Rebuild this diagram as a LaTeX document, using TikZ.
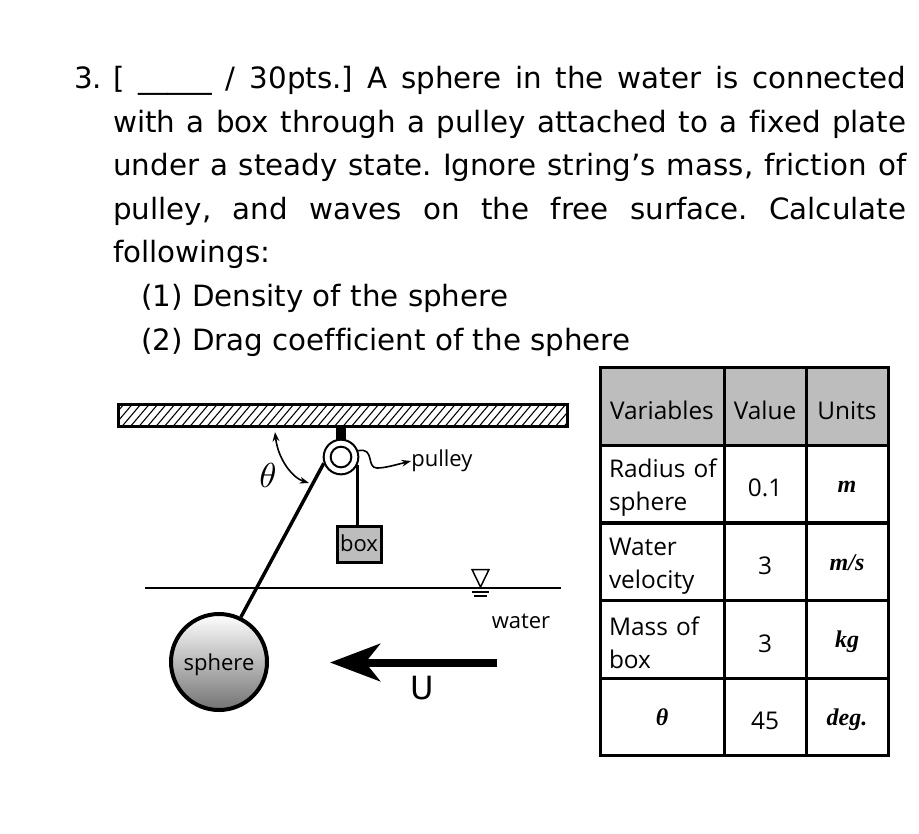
\documentclass[tikz,border=0pt]{standalone}
\usepackage{fontspec}
\setmainfont[Ligatures=NoCommon]{DejaVu Sans}
\newfontfamily\tablefont{Open Sans}
\newfontfamily\unitfont{Liberation Serif}
\usetikzlibrary{positioning, arrows.meta}
\frenchspacing
\newcommand{\bodysize}{\fontsize{22}{33}\selectfont}
\newcommand{\smallsize}{\tablefont\fontsize{18.3}{24.75}\selectfont}
\newcommand{\labelsize}{\tablefont\fontsize{16.5}{20}\selectfont}
\newcommand{\unitsize}{\unitfont\bfseries\itshape\fontsize{18}{20}\selectfont}
\tikzset{%
	txt/.style = {anchor = base west, inner sep = 0pt, font = \bodysize},
	lab/.style = {inner sep = 0pt, font = \labelsize},
	cell/.style = {draw, line width = 2.25pt, minimum width = #1, minimum height = 58.1pt, inner sep = 0pt, font = \smallsize},
	numcell/.style = {cell = #1, text height = 19pt, text depth = 0pt},
	head/.style = {numcell = #1, fill = black!26},
	varcell/.style = {cell = 93pt, text width = 79.5pt, align = left, text height = 19pt},
	unit/.style = {cell = #1, font = \unitsize, text height = 12pt, text depth = 0pt},
	rope/.style = {line width = 2.6pt},
	thin line/.style = {line width = 1.2pt}
}
\newcommand{\fullline}[3]{\node [txt] (#1) at (113,#2) {\makebox[594.75pt][s]{#3}};}
\begin{document}
\begin{tikzpicture}[x=0.75pt,y=-0.75pt]
			\useasboundingbox (0,0) rectangle (919,833);
			\node [txt] (num) at (74,88) {3.};
			\fullline{lineA}{88}{[ \_\_\_\_\_ / 30pts.] A sphere in the water is connected}
			\fullline{lineB}{132}{with a box through a pulley attached to a fixed plate}
			\fullline{lineC}{175}{under a steady state. Ignore string’s mass, friction of}
			\fullline{lineD}{219}{pulley, and waves on the free surface. Calculate}
			\node [txt] (lineE) at (113,262) {followings:};
			\node [txt] (lineF) at (141,306) {(1) Density of the sphere};
			\node [txt] (lineG) at (141,350) {(2) Drag coefficient of the sphere};
			\node [draw, line width = 2.25pt, minimum width = 337pt, minimum height = 16.5pt, inner sep = 0pt,
				path picture = {\foreach \hx in {-30,-21.5,...,460}
					\draw [line width = 0.8pt] ([xshift = \hx*0.75pt]path picture bounding box.south west) -- ++(14pt,16.5pt);}] (plate) at (343,415) {};
			\draw [line width = 7.5pt] (341,426) -- (341,446);
			\node [circle, draw, fill = white, line width = 1.5pt, minimum size = 26pt, inner sep = 0pt] (pulley) at (341,457) {};
			\node [circle, draw, fill = white, line width = 1.5pt, minimum size = 15.5pt, inner sep = 0pt] (axle) at (341,457) {};
			\node [draw, fill = black!26, line width = 2.25pt, minimum width = 33pt, minimum height = 27pt, inner sep = 0pt, font = \labelsize, text depth = 2pt] (box) at (359,544) {box};
			\node [circle, draw, line width = 3pt, minimum size = 72pt, inner sep = 0pt, top color = white, bottom color = black!55, font = \labelsize, text depth = 0pt] (sphere) at (219,662) {sphere};
			\coordinate (ropetop) at (pulley.-25);
			\draw [rope] (pulley.200) -- (sphere.64);
			\draw [line width = 2pt] (ropetop) -- (ropetop |- box.north);
			\node [lab, anchor = west] (pulleylabel) at (411,461) {pulley};
			\draw [thin line, -{Stealth[length = 7pt, width = 5pt]}] (pulley.20) .. controls (375,447) and (366,468) .. (377,468) .. controls (385,468) and (395,465) .. (pulleylabel.west);
			\coordinate (thetatop) at (275,432);
			\coordinate (thetaend) at (309,483);
			\draw [thin line, {Stealth[length = 7pt, width = 5pt]}-{Stealth[length = 7pt, width = 5pt]}] (thetatop) .. controls (278,460) and (293,478) .. (thetaend);
			\node [lab, font = \normalsize] (theta) at (268,475) {\scalebox{2.6}{$\theta$}};
			\coordinate (surfL) at (145,588);
			\coordinate (surfR) at (561,588);
			\draw [line width = 1.1pt] (surfL) -- (surfR);
			\draw [line width = 1.1pt] (472,569.5) -- (489,569.5) -- (480.5,587) -- cycle;
			\draw [line width = 1.1pt] (472,592) -- (489,592);
			\draw [line width = 1.1pt] (474,596) -- (487,596);
			\node [lab] (water) at (521,621) {water};
			\coordinate (flowA) at (497,662.5);
			\coordinate (flowB) at (330,662.5);
			\draw [line width = 6pt, -{Stealth[length = 37.5pt, width = 28pt, inset = 11pt]}] (flowA) -- (flowB);
			\node [lab, font = \fontsize{24}{26}\selectfont] (flowname) at (422,688) {U};
			\node [head = 93pt] (hvar) at (662,406.5) {Variables};
			\node [head = 61.5pt] (hval) at (765,406.5) {Value};
			\node [head = 61.5pt] (hunit) at (847,406.5) {Units};
			\node [varcell] (vradius) at (662,484) {\mbox{Radius of}\\sphere};
			\node [numcell = 61.5pt] (nradius) at (765,484) {0.1};
			\node [unit = 61.5pt] (uradius) at (847,484) {m};
			\node [varcell] (vwater) at (662,562) {Water\\velocity};
			\node [numcell = 61.5pt] (nwater) at (765,562) {3};
			\node [unit = 61.5pt] (uwater) at (847,562) {m/s};
			\node [varcell] (vmass) at (662,639.5) {Mass of\\box};
			\node [numcell = 61.5pt] (nmass) at (765,639.5) {3};
			\node [unit = 61.5pt] (umass) at (847,639.5) {kg};
			\node [unit = 93pt] (vtheta) at (662,717) {θ};
			\node [numcell = 61.5pt] (ntheta) at (765,717) {45};
			\node [unit = 61.5pt] (utheta) at (847,717) {deg.};
			\end{tikzpicture}
\end{document}
